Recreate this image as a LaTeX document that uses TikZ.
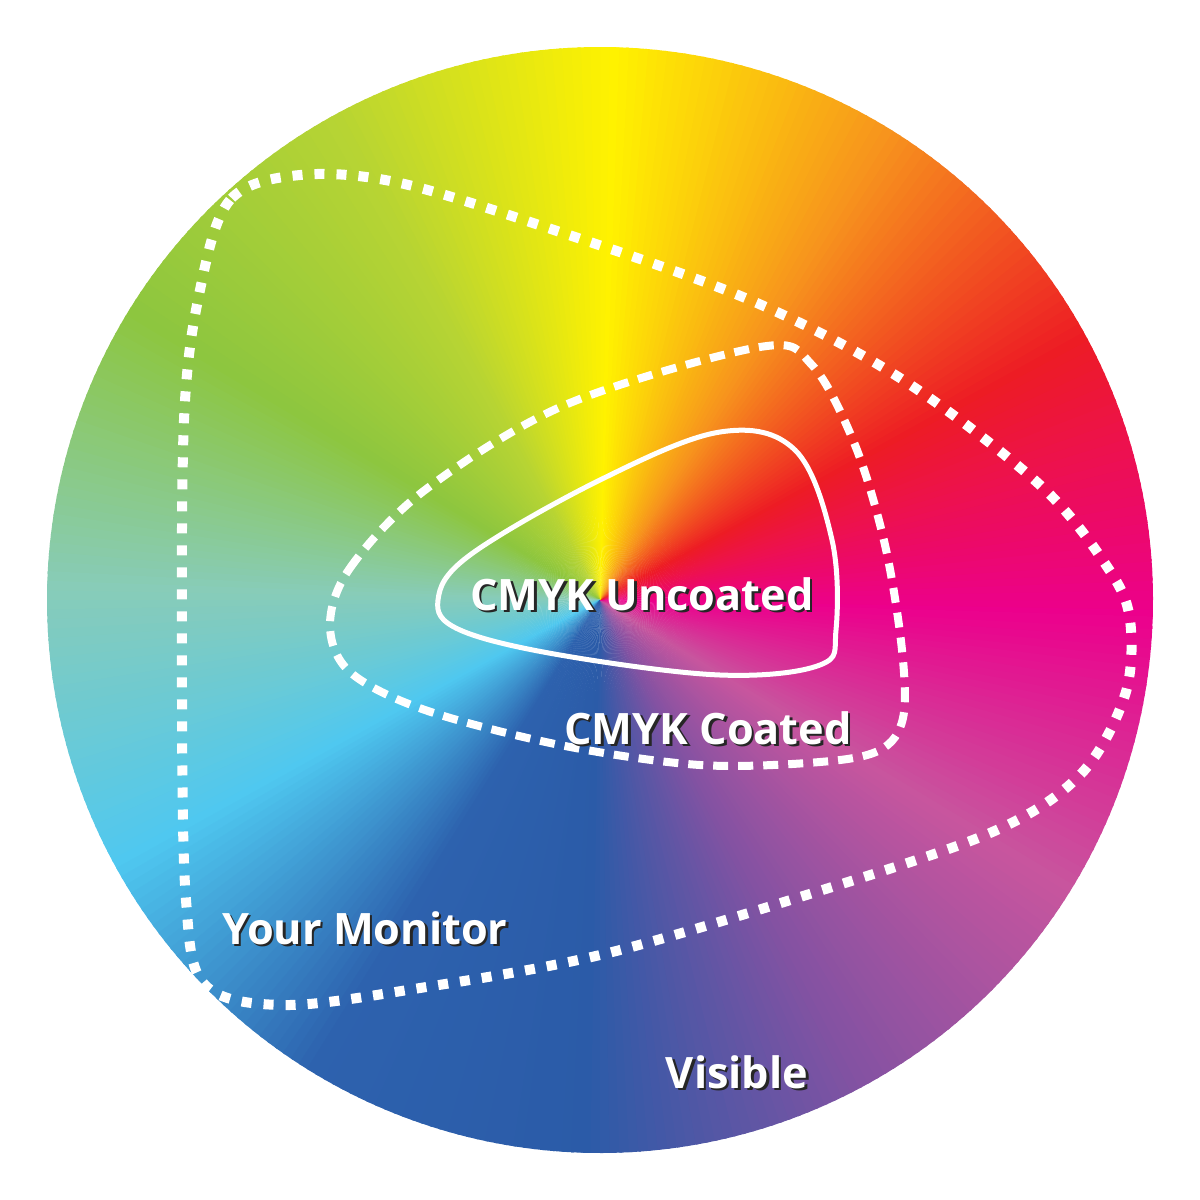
\documentclass[tikz,border=0pt]{standalone}
\usepackage{fontspec}
\setmainfont{Open Sans}
\usetikzlibrary{shadows}
\definecolor{cY}{HTML}{FFF200}
\definecolor{cO}{HTML}{F7941D}
\definecolor{cR}{HTML}{ED1C24}
\definecolor{cM}{HTML}{EC008C}
\definecolor{cP}{HTML}{C8559E}
\definecolor{cV}{HTML}{8452A2}
\definecolor{cB}{HTML}{2B5BA8}
\definecolor{cBb}{HTML}{2D62AE}
\definecolor{cC}{HTML}{4FC8F0}
\definecolor{cT}{HTML}{88CCB8}
\definecolor{cG}{HTML}{8DC63F}
\definecolor{cL}{HTML}{B7D433}
\tikzset{
  gamut label/.style={text=white, font=\bfseries\fontsize{12.3}{15}\selectfont,
    inner sep=0pt},
  solid gamut/.style={draw=white, line width=0.05cm},
  coated gamut/.style={draw=white, line width=0.08cm, dash pattern=on 0.15cm off 0.1cm},
  monitor gamut/.style={draw=white, line width=0.1cm, dash pattern=on 0.1cm off 0.12cm},
}
\newcommand{\shadowlabel}[3]{%
  \node[gamut label, text=black!85] at ([xshift=0.025cm,yshift=-0.025cm]#2) {#3};
  \node[gamut label] (#1) at (#2) {#3};}
\begin{document}
\begin{tikzpicture}[x=0.01cm,y=-0.01cm]
\useasboundingbox (0,0) rectangle (1200,1200);
% colour wheel
\begin{scope}[shift={(600,600)}, rotate=-2]
\foreach \ca/\cb [count=\i from 0] in {cM/cR,cR/cO,cO/cY,cY/cL,cL/cG,cG/cT,cT/cC,cC/cBb,cBb/cB,cB/cV,cV/cP,cP/cM}{
  \foreach \j in {0,...,29}{
    \pgfmathsetmacro{\a}{-(\i*30+\j)}
    \pgfmathsetmacro{\p}{\j/30*100}
    \fill[\cb!\p!\ca] (0,0) -- (\a:553) arc[start angle=\a, end angle=\a-1.3, radius=553] -- cycle;
  }
}
\end{scope}
% gamuts
\draw[monitor gamut] plot[smooth cycle, tension=0.55] coordinates {
  (300,175) (230,200) (200,290) (184,420) (182,700) (186,900) (205,985) (285,1005)
  (420,988) (600,955) (800,897) (990,833) (1080,775) (1125,695) (1130,620) (1108,568)
  (1040,485) (900,378) (750,300) (560,232) (400,183)};
\draw[coated gamut] plot[smooth cycle, tension=0.55] coordinates {
  (330,625) (350,568) (425,490) (565,405) (760,347) (812,365) (855,445) (885,545)
  (902,650) (903,718) (880,750) (820,762) (700,765) (560,745) (425,710) (350,672)};
\draw[solid gamut] plot[smooth cycle, tension=0.6] coordinates {
  (438,600) (470,555) (600,480) (720,432) (795,450) (832,540) (836,630) (820,665)
  (720,675) (560,655) (460,630)};
% labels
\shadowlabel{uncoated}{642,594}{CMYK Uncoated}
\shadowlabel{coated}{708,728}{CMYK Coated}
\shadowlabel{monitor}{365,928}{Your Monitor}
\shadowlabel{visible}{737,1072}{Visible}
\end{tikzpicture}
\end{document}
